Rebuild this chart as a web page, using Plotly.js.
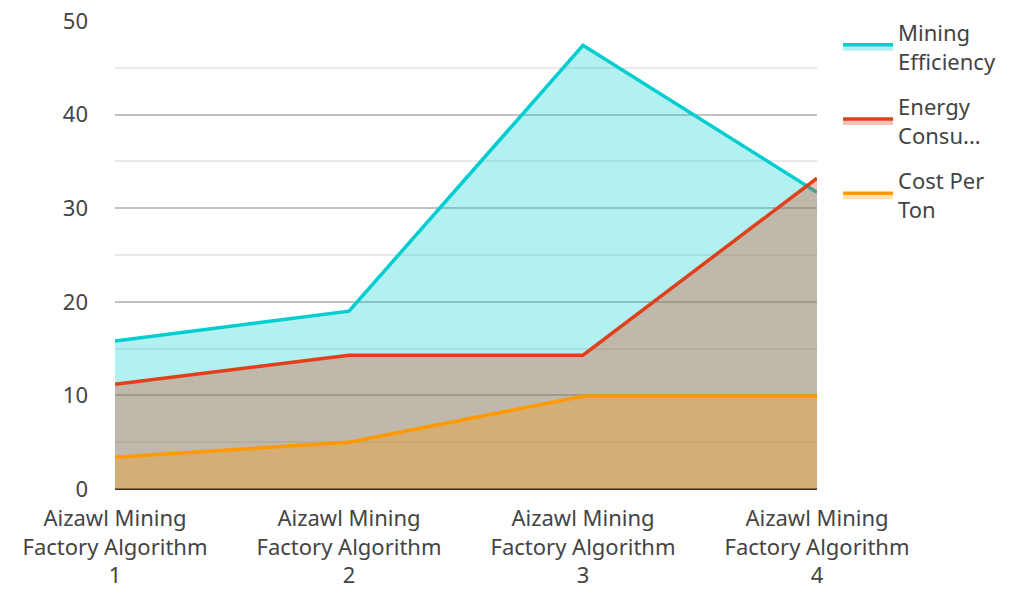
<!DOCTYPE html>
<html>
<head>
<meta charset="utf-8">
<script src="https://cdn.plot.ly/plotly-3.0.1.min.js"></script>
<style>html,body{margin:0;padding:0;background:#fff;}#chart{width:1015px;height:592px;}</style>
</head>
<body>
<div id="chart"></div>
<script>
const categories = [
  "Aizawl Mining<br>Factory Algorithm<br>1",
  "Aizawl Mining<br>Factory Algorithm<br>2",
  "Aizawl Mining<br>Factory Algorithm<br>3",
  "Aizawl Mining<br>Factory Algorithm<br>4"
];
const miningEfficiency = [15.8, 19.0, 47.4, 31.7];
const energyConsumption = [11.2, 14.3, 14.3, 33.2];
const costPerTon = [3.4, 5.0, 9.9, 9.9];
const seriesNames = ["Mining<br>Efficiency", "Energy<br>Consu...", "Cost Per<br>Ton"];
const yTicks = [0, 10, 20, 30, 40, 50];

const font = {family: "Noto Sans, Open Sans, sans-serif", size: 22, color: "#444"};

function mk(y, name, line, fill, grp) {
  return {
    x: categories, y: y, name: name, type: "scatter", mode: "lines",
    fill: "tozeroy", fillcolor: fill, legendgroup: grp,
    line: {color: line, width: 3.5}, hoverinfo: "none"
  };
}

const data = [
  mk(miningEfficiency, seriesNames[0], "#00CDD0", "rgba(0,206,209,0.3)", "a"),
  mk(energyConsumption, seriesNames[1], "#E0401A", "rgba(224,64,26,0.32)", "b"),
  mk(costPerTon, seriesNames[2], "#FF9900", "rgba(255,153,0,0.3)", "c")
];

const layout = {
  width: 1015, height: 592,
  margin: {l: 115, r: 198, t: 21, b: 103},
  paper_bgcolor: "#fff", plot_bgcolor: "#fff",
  font: font,
  showlegend: true,
  legend: {x: 1.03, xanchor: "left", y: 1.02, yanchor: "top", font: font,
           tracegroupgap: 14, traceorder: "grouped", itemwidth: 50},
  xaxis: {
    type: "category", range: [0, 3], showgrid: false, zeroline: false,
    showline: false, ticks: "", tickfont: font, fixedrange: true,
    ticklabelstandoff: 14
  },
  yaxis: {
    range: [0, 50], tickvals: yTicks, ticktext: yTicks.map(String),
    showgrid: true, gridcolor: "rgba(160,160,160,0.55)", gridwidth: 2,
    minor: {dtick: 5, tick0: 0, showgrid: true, gridcolor: "rgba(200,200,200,0.4)", gridwidth: 2},
    zeroline: true, zerolinecolor: "#333", zerolinewidth: 2,
    showline: false, ticks: "", ticklabelstandoff: 26, tickfont: font
  }
};

Plotly.newPlot("chart", data, layout, {displayModeBar: false, staticPlot: true});
</script>
</body>
</html>
